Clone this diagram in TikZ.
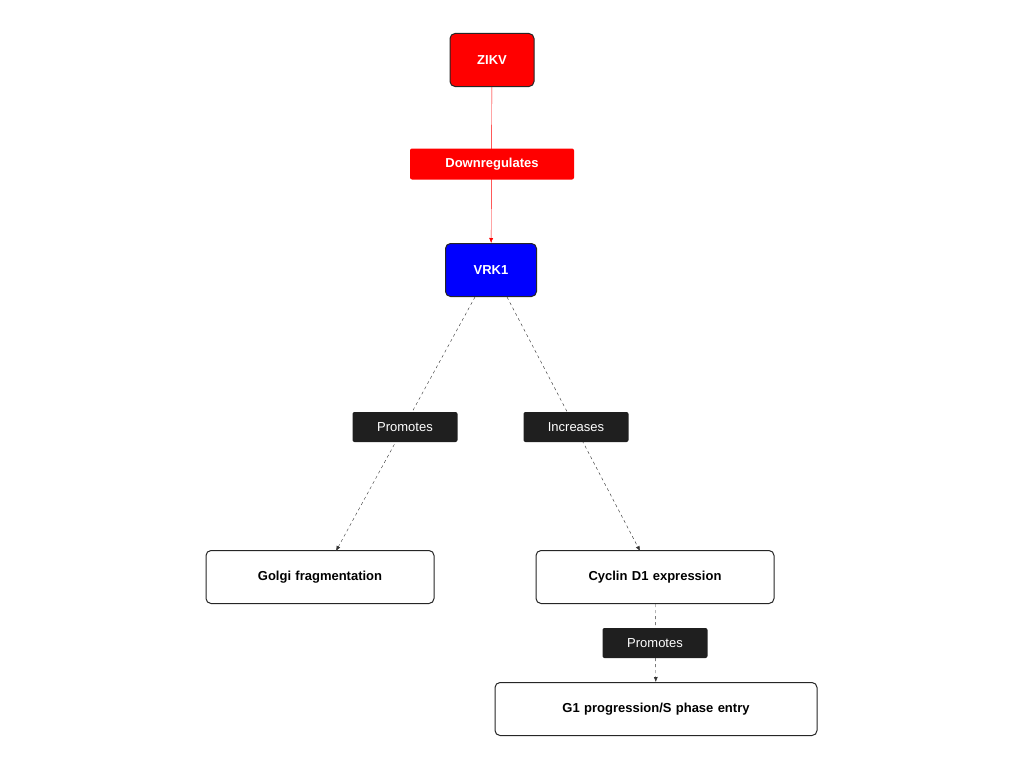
\documentclass[tikz,border=0pt]{standalone}
\usepackage{fontspec}
\setmainfont{Liberation Sans}
\usetikzlibrary{arrows.meta}
\begin{document}
\begin{tikzpicture}[x=1pt,y=-1pt,
 box/.style={draw=black!85,line width=1pt,rounded corners=5pt,minimum height=53pt,font=\bfseries\fontsize{13}{15}\selectfont,text width=#1,align=center,inner sep=0pt},
 lab/.style={fill=black!88,text=white,rounded corners=2pt,font=\fontsize{13}{15}\selectfont,minimum height=30pt,text width=#1,align=center,inner sep=0pt},
 dashedge/.style={draw=black!80,dashed,-{Latex[length=5pt,width=4pt]}}]
\useasboundingbox (0,0) rectangle (1024,768);
\node[box=84pt,fill=red,text=white] (zikv) at (492,60) {ZIKV};
\node[box=91pt,fill=blue,text=white] (vrk) at (491,270) {VRK1};
\node[box=228pt,fill=white] (golgi) at (320,577) {Golgi fragmentation};
\node[box=238pt,fill=white] (cyc) at (655,577) {Cyclin D1 expression};
\node[box=322pt,fill=white] (g1) at (656,709) {G1 progression/S phase entry};
\coordinate (v1) at (475,297); \coordinate (v2) at (507,297);
\coordinate (g) at (336,551); \coordinate (c) at (640,551);
\draw[red,-{Latex[length=5pt,width=4pt]}] (zikv) -- (vrk);
\draw[dashedge] (v1) -- (g);
\draw[dashedge] (v2) -- (c);
\draw[dashedge] (cyc) -- (g1);
\node[lab=164pt,fill=red,text=white,font=\bfseries\fontsize{13}{15}\selectfont,minimum height=31pt] (l1) at (492,164) {Downregulates};
\node[lab=105pt] (l2) at (405,427) {Promotes};
\node[lab=105pt] (l3) at (576,427) {Increases};
\node[lab=105pt] (l4) at (655,643) {Promotes};
\end{tikzpicture}
\end{document}
